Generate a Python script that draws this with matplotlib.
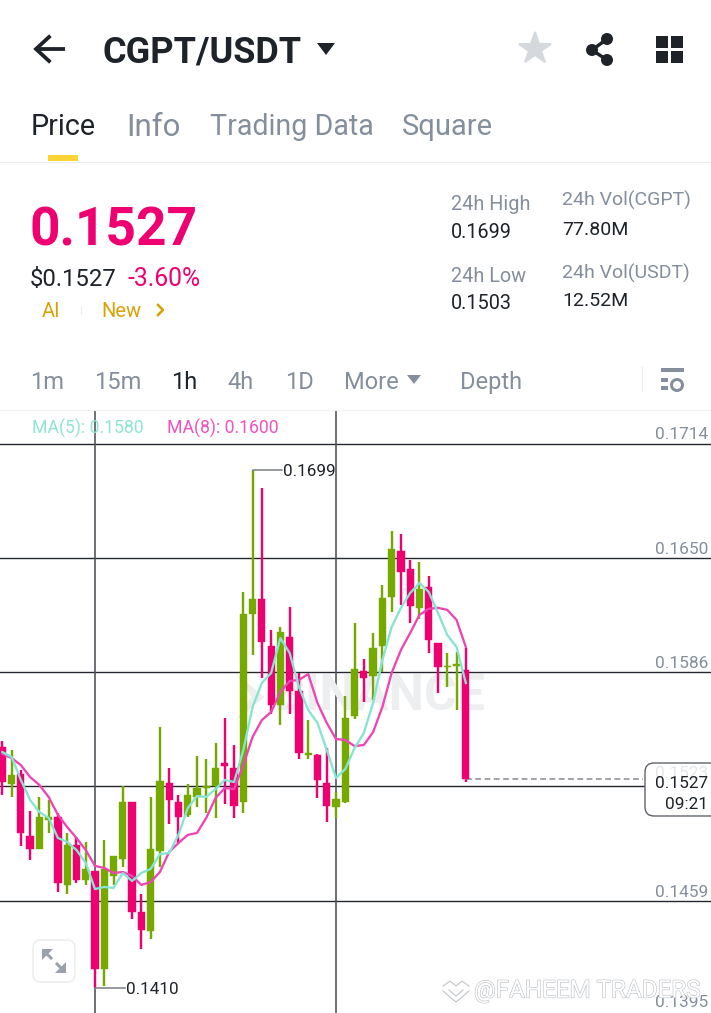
import matplotlib
matplotlib.use('Agg')
import matplotlib.pyplot as plt
import matplotlib.patheffects as pe
from matplotlib.patches import Rectangle, FancyBboxPatch, Polygon, Circle

plt.rcParams['font.family'] = ['Roboto', 'DejaVu Sans']

opens = [0.15449, 0.15242, 0.15298, 0.14952, 0.14880, 0.15041, 0.15058, 0.14679, 0.14902, 0.14707,
         0.14757, 0.14210, 0.14729, 0.14824, 0.15142, 0.14528, 0.14422, 0.14868, 0.15248, 0.15142,
         0.15070, 0.15170, 0.15220, 0.15231, 0.15359, 0.15332, 0.15142, 0.16191, 0.16275, 0.16012,
         0.15683, 0.16062, 0.15761, 0.15404, 0.15404, 0.15248, 0.15114, 0.15142, 0.15622, 0.15873,
         0.15845, 0.16012, 0.16286, 0.16543, 0.16442, 0.16225, 0.16341, 0.16029, 0.15895, 0.15901,
         0.15878]
highs = [0.15482, 0.15432, 0.15320, 0.15092, 0.15170, 0.15153, 0.15080, 0.14969, 0.14947, 0.14919,
         0.14757, 0.14930, 0.14841, 0.15231, 0.15142, 0.14628, 0.15170, 0.15560, 0.15332, 0.15181,
         0.15242, 0.15398, 0.15382, 0.15471, 0.15611, 0.15460, 0.16314, 0.16994, 0.16894, 0.16102,
         0.16118, 0.16230, 0.15862, 0.15599, 0.15410, 0.15443, 0.15198, 0.15733, 0.16141, 0.15940,
         0.16085, 0.16353, 0.16654, 0.16637, 0.16492, 0.16481, 0.16403, 0.16029, 0.15973, 0.15979,
         0.16001]
lows = [0.15181, 0.15170, 0.14896, 0.14818, 0.14880, 0.14969, 0.14640, 0.14628, 0.14690, 0.14679,
        0.14104, 0.14115, 0.14679, 0.14779, 0.14489, 0.14322, 0.14378, 0.14779, 0.15019, 0.14913,
        0.15058, 0.15114, 0.15080, 0.15053, 0.15131, 0.15053, 0.15080, 0.15962, 0.15834, 0.15633,
        0.15571, 0.15633, 0.15382, 0.15382, 0.15164, 0.15030, 0.15053, 0.15136, 0.15605, 0.15700,
        0.15711, 0.15867, 0.16202, 0.16241, 0.16141, 0.16163, 0.15973, 0.15750, 0.15784, 0.15655,
        0.15253]
closes = [0.15253, 0.15292, 0.14969, 0.14880, 0.15058, 0.15058, 0.14690, 0.14902, 0.14707, 0.14768,
          0.14210, 0.14768, 0.14841, 0.15142, 0.14528, 0.14428, 0.14880, 0.15259, 0.15153, 0.15058,
          0.15181, 0.15220, 0.15231, 0.15332, 0.15343, 0.15120, 0.16191, 0.16275, 0.16035, 0.15683,
          0.16090, 0.15761, 0.15415, 0.15415, 0.15265, 0.15120, 0.15159, 0.15611, 0.15884, 0.15834,
          0.16001, 0.16280, 0.16554, 0.16426, 0.16236, 0.16330, 0.16046, 0.15895, 0.15901, 0.15912,
          0.15270]

ma5 = [0.15421, 0.15393, 0.15265, 0.15153, 0.15086, 0.15053, 0.14941, 0.14919, 0.14874, 0.14802,
       0.14656, 0.14668, 0.14662, 0.14746, 0.14701, 0.14746, 0.14768, 0.14852, 0.14857, 0.14958,
       0.15108, 0.15175, 0.15170, 0.15214, 0.15265, 0.15253, 0.15432, 0.15672, 0.15806, 0.15862,
       0.16057, 0.15973, 0.15784, 0.15655, 0.15583, 0.15432, 0.15276, 0.15326, 0.15443, 0.15527,
       0.15694, 0.15934, 0.16118, 0.16225, 0.16308, 0.16364, 0.16314, 0.16197, 0.16074, 0.16007,
       0.15806]
ma8 = [0.15410, 0.15387, 0.15348, 0.15281, 0.15237, 0.15170, 0.15070, 0.15002, 0.14941, 0.14874,
       0.14785, 0.14774, 0.14746, 0.14751, 0.14729, 0.14679, 0.14695, 0.14751, 0.14863, 0.14913,
       0.14958, 0.14969, 0.15053, 0.15164, 0.15220, 0.15214, 0.15348, 0.15505, 0.15599, 0.15644,
       0.15756, 0.15817, 0.15823, 0.15856, 0.15694, 0.15583, 0.15493, 0.15488, 0.15454, 0.15460,
       0.15532, 0.15672, 0.15862, 0.15990, 0.16085, 0.16186, 0.16220, 0.16225, 0.16214, 0.16158,
       0.16007]

grid_prices = [0.1714, 0.16503, 0.15865, 0.15231, 0.14589]
scale_labels = ['0.1714', '0.1650', '0.1586', '0.1459', '0.1395']
scale_prices = [0.1714, 0.16503, 0.15865, 0.14589, 0.13975]
cross_candles = [10, 36]
high_candle, high_value = 27, 0.16994
low_candle, low_value = 10, 0.14104
last_price = 0.1527

GREEN = '#76A900'
PINK = '#EE0070'
TEAL = '#85E5D2'
MAGENTA = '#EE45B4'
DARK = '#1E2329'
GREY = '#848E9C'
GOLD = '#D9A106'

W, H = 711, 1013
fig = plt.figure(figsize=(W / 100, H / 100), dpi=100)
fig.patch.set_facecolor('white')

# chart area
chart_top, chart_bottom = 411, 1013
ax = fig.add_axes([0, 1 - chart_bottom / H, 1, (chart_bottom - chart_top) / H])
ax.set_xlim(-0.248, 76.45)
ax.set_ylim(0.19617 - 0.0000558 * chart_bottom, 0.19617 - 0.0000558 * chart_top)
ax.axis('off')


def px(n):
    # line widths are given in screen pixels
    return n * 0.72


for g in grid_prices:
    ax.axhline(g, color='#24282e', lw=px(1.4), zorder=1)
for c in cross_candles:
    ax.axvline(c, color='#4d5258', lw=px(1.6), zorder=1)

# watermark behind the candles
ax.text(0.534, 0.525, 'BINANCE', transform=ax.transAxes, fontsize=36, fontweight='bold',
        color='#ECEEF0', ha='center', va='center', zorder=1.5)
ax.add_patch(Polygon([(0.331, 0.565), (0.372, 0.525), (0.331, 0.485), (0.354, 0.525)], closed=True,
                     transform=ax.transAxes, fc='#ECEEF0', ec='none', zorder=1.5))

for i in range(len(opens)):
    col = GREEN if closes[i] >= opens[i] else PINK
    ax.plot([i, i], [lows[i], highs[i]], color=col, lw=px(2.4), solid_capstyle='butt', zorder=2)
    bot = min(opens[i], closes[i])
    ax.add_patch(Rectangle((i - 0.39, bot), 0.78, abs(closes[i] - opens[i]), facecolor=col,
                           edgecolor=col, lw=0.3, zorder=2.5))

xs = list(range(len(ma5)))
ax.plot(xs, ma8, color=MAGENTA, lw=px(2.3), zorder=3)
ax.plot(xs, ma5, color=TEAL, lw=px(2.3), zorder=3.1)

# last price dashes
ax.plot([len(opens) - 1, 69.1], [last_price, last_price], color='#8a8f96', lw=px(1.6),
        ls=(0, (3.6, 2.2)), zorder=2)

# high and low markers
for cx, val, txt in [(high_candle, high_value, '0.1699'), (low_candle, low_value, '0.1410')]:
    ax.plot([cx, cx + 3.2], [val, val], color='#777c82', lw=px(1.5), zorder=3)
    ax.annotate(txt, (cx + 3.3, val), xytext=(0, -1), textcoords='offset points', color=DARK,
                fontsize=12.3, va='center', ha='left', zorder=4)

# overlay for the app interface, in screen pixels
ui = fig.add_axes([0, 0, 1, 1], facecolor='none')
ui.set_xlim(0, W)
ui.set_ylim(H, 0)
ui.axis('off')


def label(x, y, s, size, color, ha='left', weight='normal', **kw):
    return ui.text(x, y, s, fontsize=size, color=color, ha=ha, va='center', fontweight=weight, **kw)


# header
ui.plot([38, 65], [49, 49], color=DARK, lw=px(3.8), solid_capstyle='butt')
ui.plot([49, 36, 49], [37, 49, 61], color=DARK, lw=px(3.8), solid_joinstyle='miter')
label(103, 52, 'CGPT/USDT', 26, DARK, weight='bold')
ui.add_patch(Polygon([(317, 43), (335, 43), (326, 55)], closed=True, fc=DARK, ec='none'))
ui.plot([535], [49], marker='*', ms=24, color='#D5D9DE', mec='#D5D9DE', mew=1.5)
share = [(607, 39), (592, 50), (607, 60)]
ui.plot([p[0] for p in share], [p[1] for p in share], color=DARK, lw=px(3.4))
for p in share:
    ui.add_patch(Circle(p, 6, fc=DARK, ec='none'))
for sx, sy in [(656, 36), (671, 36), (656, 51), (671, 51)]:
    ui.add_patch(Rectangle((sx, sy), 11.5, 11.5, fc=DARK, ec='none'))

# tabs
label(31, 127, 'Price', 20.7, DARK)
label(126, 127, 'Info', 22.5, GREY)
label(210, 127, 'Trading Data', 20.6, GREY)
label(402, 127, 'Square', 21, GREY)
ui.add_patch(Rectangle((48, 155), 30, 6, fc='#FCD535', ec='none'))
ui.plot([0, W], [161.5, 161.5], color='#EAECEF', lw=px(1.2))

# price block
label(30, 231, '0.1527', 38.3, PINK, weight='bold')
label(30, 279, '$0.1527', 17.2, DARK)
label(127, 279, '-3.60%', 17.8, PINK)
label(42, 311, 'AI', 14.5, GOLD)
ui.plot([81, 81], [306, 314], color='#EAECEF', lw=px(1.2))
label(101, 311, 'New', 14.5, GOLD)
ui.plot([158, 163, 158], [305, 310, 315], color=GOLD, lw=px(2.6))

# 24h stats
label(451, 204, '24h High', 14.3, GREY)
label(451, 232, '0.1699', 14.3, DARK)
label(451, 276, '24h Low', 14.3, GREY)
label(451, 303, '0.1503', 14.3, DARK)
label(562, 200, '24h Vol(CGPT)', 14, GREY)
label(562, 230, '77.80M', 14, DARK)
label(562, 273, '24h Vol(USDT)', 14, GREY)
label(562, 301, '12.52M', 14, DARK)

# interval row
label(30, 382, '1m', 17, GREY)
label(94, 382, '15m', 17, GREY)
label(171, 382, '1h', 17, DARK)
label(227, 382, '4h', 17, GREY)
label(285, 382, '1D', 17, GREY)
label(344, 382, 'More', 17, GREY)
ui.add_patch(Polygon([(407, 375), (421, 375), (414, 384)], closed=True, fc=GREY, ec='none'))
label(460, 382, 'Depth', 17, GREY)
ui.plot([642, 642], [367, 391], color='#EAECEF', lw=px(1.2))
ui.add_patch(Rectangle((661, 368), 23, 4, fc=GREY, ec='none'))
ui.add_patch(Rectangle((661, 378), 7, 4, fc=GREY, ec='none'))
ui.add_patch(Rectangle((661, 386), 7, 4, fc=GREY, ec='none'))
ui.add_patch(Circle((677, 385), 5.5, fc='white', ec=GREY, lw=px(3)))
ui.plot([0, W], [410, 410], color='#EFF1F3', lw=px(1.2))

# MA legend
label(32, 428, 'MA(5): 0.1580', 12.7, '#8FE5CF', zorder=5)
label(167, 428, 'MA(8): 0.1600', 12.7, '#F252BE', zorder=5)

# price scale labels
for s, p in zip(scale_labels, scale_prices):
    y = (0.19617 - p) / 0.0000558
    label(708, y - 9, s, 12.4, GREY, ha='right', zorder=5)

# last price box
ui.add_patch(FancyBboxPatch((645, 763), 90, 53, boxstyle='round,pad=0,rounding_size=9', fc='white',
                            ec='#555a60', lw=px(1.3), zorder=6))
label(708, 773, '0.1523', 12.4, '#E4E6E9', ha='right', zorder=6.5)
label(708, 783, '0.1527', 12.4, DARK, ha='right', zorder=7)
label(708, 804, '09:21', 12.4, DARK, ha='right', zorder=7)

# expand button
ui.add_patch(FancyBboxPatch((33, 940), 42, 42, boxstyle='round,pad=0,rounding_size=8', fc='white',
                            ec='#EDEEF0', lw=px(1.6), zorder=6))
ui.plot([44, 51], [951, 958], color='#9AA1AB', lw=px(3), zorder=7)
ui.plot([57, 64], [964, 971], color='#9AA1AB', lw=px(3), zorder=7)
ui.add_patch(Polygon([(42, 949), (53, 949), (42, 960)], closed=True, fc='#9AA1AB', ec='none', zorder=7))
ui.add_patch(Polygon([(66, 973), (55, 973), (66, 962)], closed=True, fc='#9AA1AB', ec='none', zorder=7))

# photo watermark, hollow letters
wm = label(474, 991, '@FAHEEM TRADERS', 17.4, 'white', zorder=8)
wm.set_path_effects([pe.withStroke(linewidth=0.9, foreground='#BFC3C8')])
ui.plot([443, 456, 469], [991, 1002, 991], color='#C4C8CC', lw=px(1.2), zorder=8)
ui.plot([443, 450, 456, 462, 469], [986, 981, 986, 981, 986], color='#C4C8CC', lw=px(1.2), zorder=8)
ui.plot([449, 456, 463], [990, 996, 990], color='#C4C8CC', lw=px(1.2), zorder=8)

fig.savefig('out.png', dpi=100)
